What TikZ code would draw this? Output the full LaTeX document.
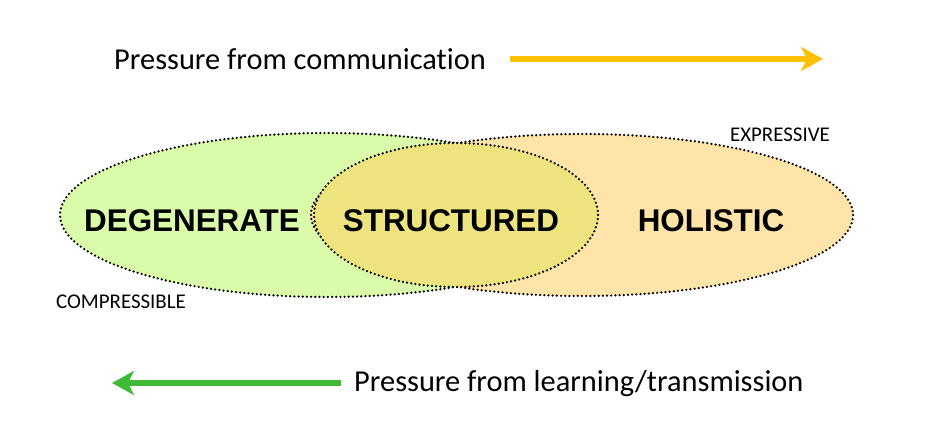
\documentclass[tikz,border=0pt]{standalone}
\usepackage{fontspec}
\setmainfont{Carlito}[Ligatures=NoCommon]
\newfontfamily\boldsans{Liberation Sans}
\usetikzlibrary{arrows.meta}
\definecolor{lgreen}{RGB}{217,251,170}
\definecolor{lorange}{RGB}{254,228,168}
\definecolor{lkhaki}{RGB}{237,228,127}
\definecolor{arrorange}{RGB}{255,192,0}
\definecolor{arrgreen}{RGB}{64,186,52}
\tikzset{
  blob/.style={draw=black, line width=2.5pt, line cap=round, dash pattern=on 0pt off 4.2pt},
  bigword/.style={font=\boldsans\bfseries\fontsize{31.5}{32}\selectfont, inner sep=0pt},
  pressure/.style={font=\fontsize{30.5}{32}\selectfont, inner sep=0pt, anchor=west},
  small/.style={font=\fontsize{21}{22}\selectfont, inner sep=0pt},
  bigarrow/.style={line width=7pt, -{Stealth[length=22pt, width=24pt, inset=6pt]}}
}
\begin{document}
\begin{tikzpicture}[x=1bp,y=-1bp]
\useasboundingbox (0,0) rectangle (942,444);
\fill[white] (0,0) rectangle (942,444);
\path[blob, fill=lgreen] (327,215) ellipse [x radius=267, y radius=82];
\path[blob, fill=lorange] (582,215) ellipse [x radius=271, y radius=81];
\path[blob, fill=lkhaki] (456,215) ellipse [x radius=142, y radius=72];
\node[bigword] (deg) at (192,221) {DEGENERATE};
\node[bigword] (str) at (451,221) {STRUCTURED};
\node[bigword] (hol) at (711,221) {HOLISTIC};
\node[small] (exp) at (780,135) {EXPRESSIVE};
\node[small] (com) at (121,302) {COMPRESSIBLE};
\node[pressure] (pc) at (114,59) {Pressure from communication};
\node[pressure] (pl) at (354,384) {Pressure from learning/transmission};
\coordinate (oa) at (510,59);
\coordinate (ob) at (823,59);
\coordinate (ga) at (341,383);
\coordinate (gb) at (112,383);
\draw[bigarrow, arrorange] (oa) -- (ob);
\draw[bigarrow, arrgreen] (ga) -- (gb);
\end{tikzpicture}
\end{document}
